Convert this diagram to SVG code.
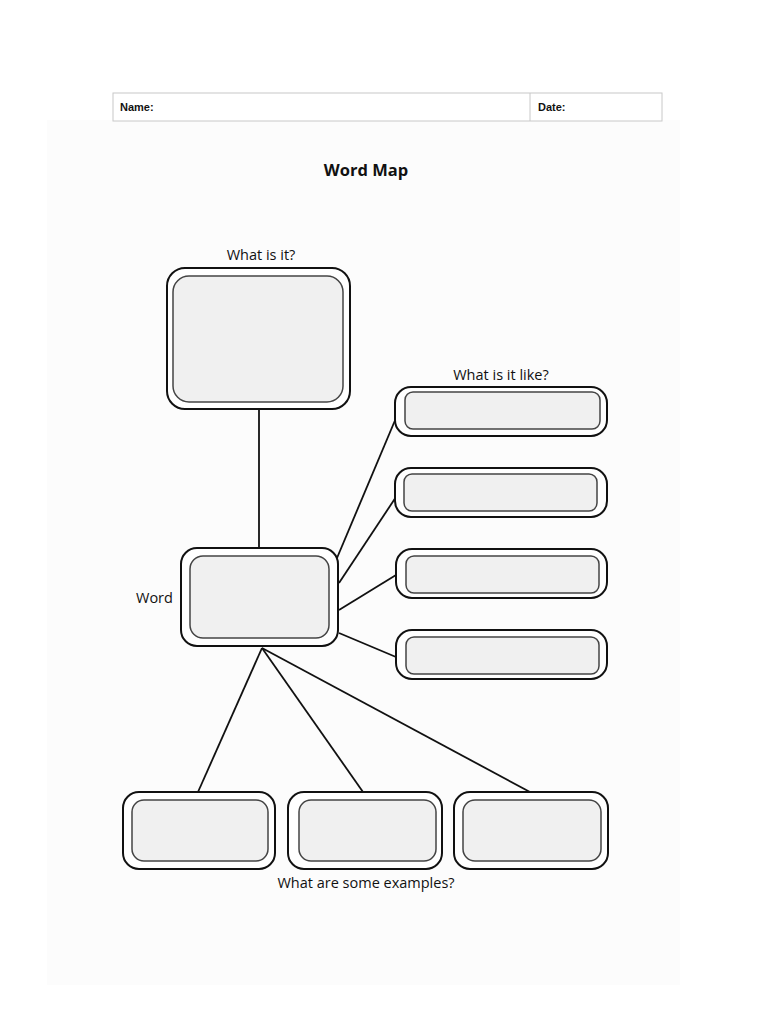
<svg xmlns="http://www.w3.org/2000/svg" width="768" height="1024" viewBox="0 0 768 1024">
<style>
.outer{fill:#ffffff;stroke:#111;stroke-width:2}
.inner{fill:#f0f0f0;stroke:#444;stroke-width:1.5}
.lbl{font-family:"Open Sans","Liberation Sans",sans-serif;font-size:14.5px;fill:#111}
.hdr{font-family:"Liberation Sans",Arial,sans-serif;font-size:11px;font-weight:bold;fill:#111}
.conn line{stroke:#111;stroke-width:1.8}
</style>
<rect x="0" y="0" width="768" height="1024" fill="#ffffff"/>
<rect x="47" y="120" width="633" height="865" fill="#fcfcfc"/>
<g id="header">
<rect x="113" y="93" width="549" height="28" fill="#ffffff" stroke="#c8c8c8" stroke-width="1"/>
<line x1="530" y1="93" x2="530" y2="121" stroke="#c8c8c8" stroke-width="1"/>
<text class="hdr" x="120" y="111">Name:</text>
<text class="hdr" x="538" y="111">Date:</text>
</g>
<text id="title" x="366" y="176" text-anchor="middle" font-family="'Open Sans','Liberation Sans',sans-serif" font-size="16.5" font-weight="bold" fill="#111">Word Map</text>
<g class="conn" id="connectors">
<line x1="259" y1="409" x2="259" y2="549"/>
<line x1="337" y1="558" x2="396" y2="418"/>
<line x1="339" y1="583" x2="396" y2="497"/>
<line x1="339" y1="610" x2="396" y2="575"/>
<line x1="339" y1="633" x2="396" y2="657"/>
<line x1="262" y1="648" x2="198" y2="792"/>
<line x1="262" y1="648" x2="363" y2="792"/>
<line x1="262" y1="648" x2="530" y2="792"/>
</g>
<g id="what-is-it">
<rect class="outer" x="167" y="268" width="183" height="141" rx="18"/>
<rect class="inner" x="173" y="276" width="170" height="126" rx="16"/>
<text class="lbl" x="261" y="260" text-anchor="middle">What is it?</text>
</g>
<g id="word">
<rect class="outer" x="181" y="548" width="157" height="98" rx="16"/>
<rect class="inner" x="190" y="556" width="139" height="82" rx="13"/>
<text class="lbl" x="136" y="603">Word</text>
</g>
<text class="lbl" x="501" y="380" text-anchor="middle">What is it like?</text>
<g id="like-1">
<rect class="outer" x="395" y="387" width="212" height="49" rx="16"/>
<rect class="inner" x="405" y="392" width="195" height="37" rx="8"/>
</g>
<g id="like-2">
<rect class="outer" x="395" y="468" width="212" height="49" rx="16"/>
<rect class="inner" x="404" y="474" width="193" height="37" rx="8"/>
</g>
<g id="like-3">
<rect class="outer" x="396" y="549" width="211" height="49" rx="16"/>
<rect class="inner" x="406" y="556" width="193" height="37" rx="8"/>
</g>
<g id="like-4">
<rect class="outer" x="396" y="630" width="211" height="49" rx="16"/>
<rect class="inner" x="406" y="637" width="193" height="37" rx="8"/>
</g>
<g id="example-1">
<rect class="outer" x="123" y="792" width="152" height="77" rx="16"/>
<rect class="inner" x="132" y="800" width="136" height="61" rx="12"/>
</g>
<g id="example-2">
<rect class="outer" x="288" y="792" width="154" height="77" rx="16"/>
<rect class="inner" x="299" y="800" width="137" height="61" rx="12"/>
</g>
<g id="example-3">
<rect class="outer" x="454" y="792" width="154" height="77" rx="16"/>
<rect class="inner" x="463" y="800" width="138" height="61" rx="12"/>
</g>
<text class="lbl" x="366" y="888" text-anchor="middle">What are some examples?</text>
</svg>
